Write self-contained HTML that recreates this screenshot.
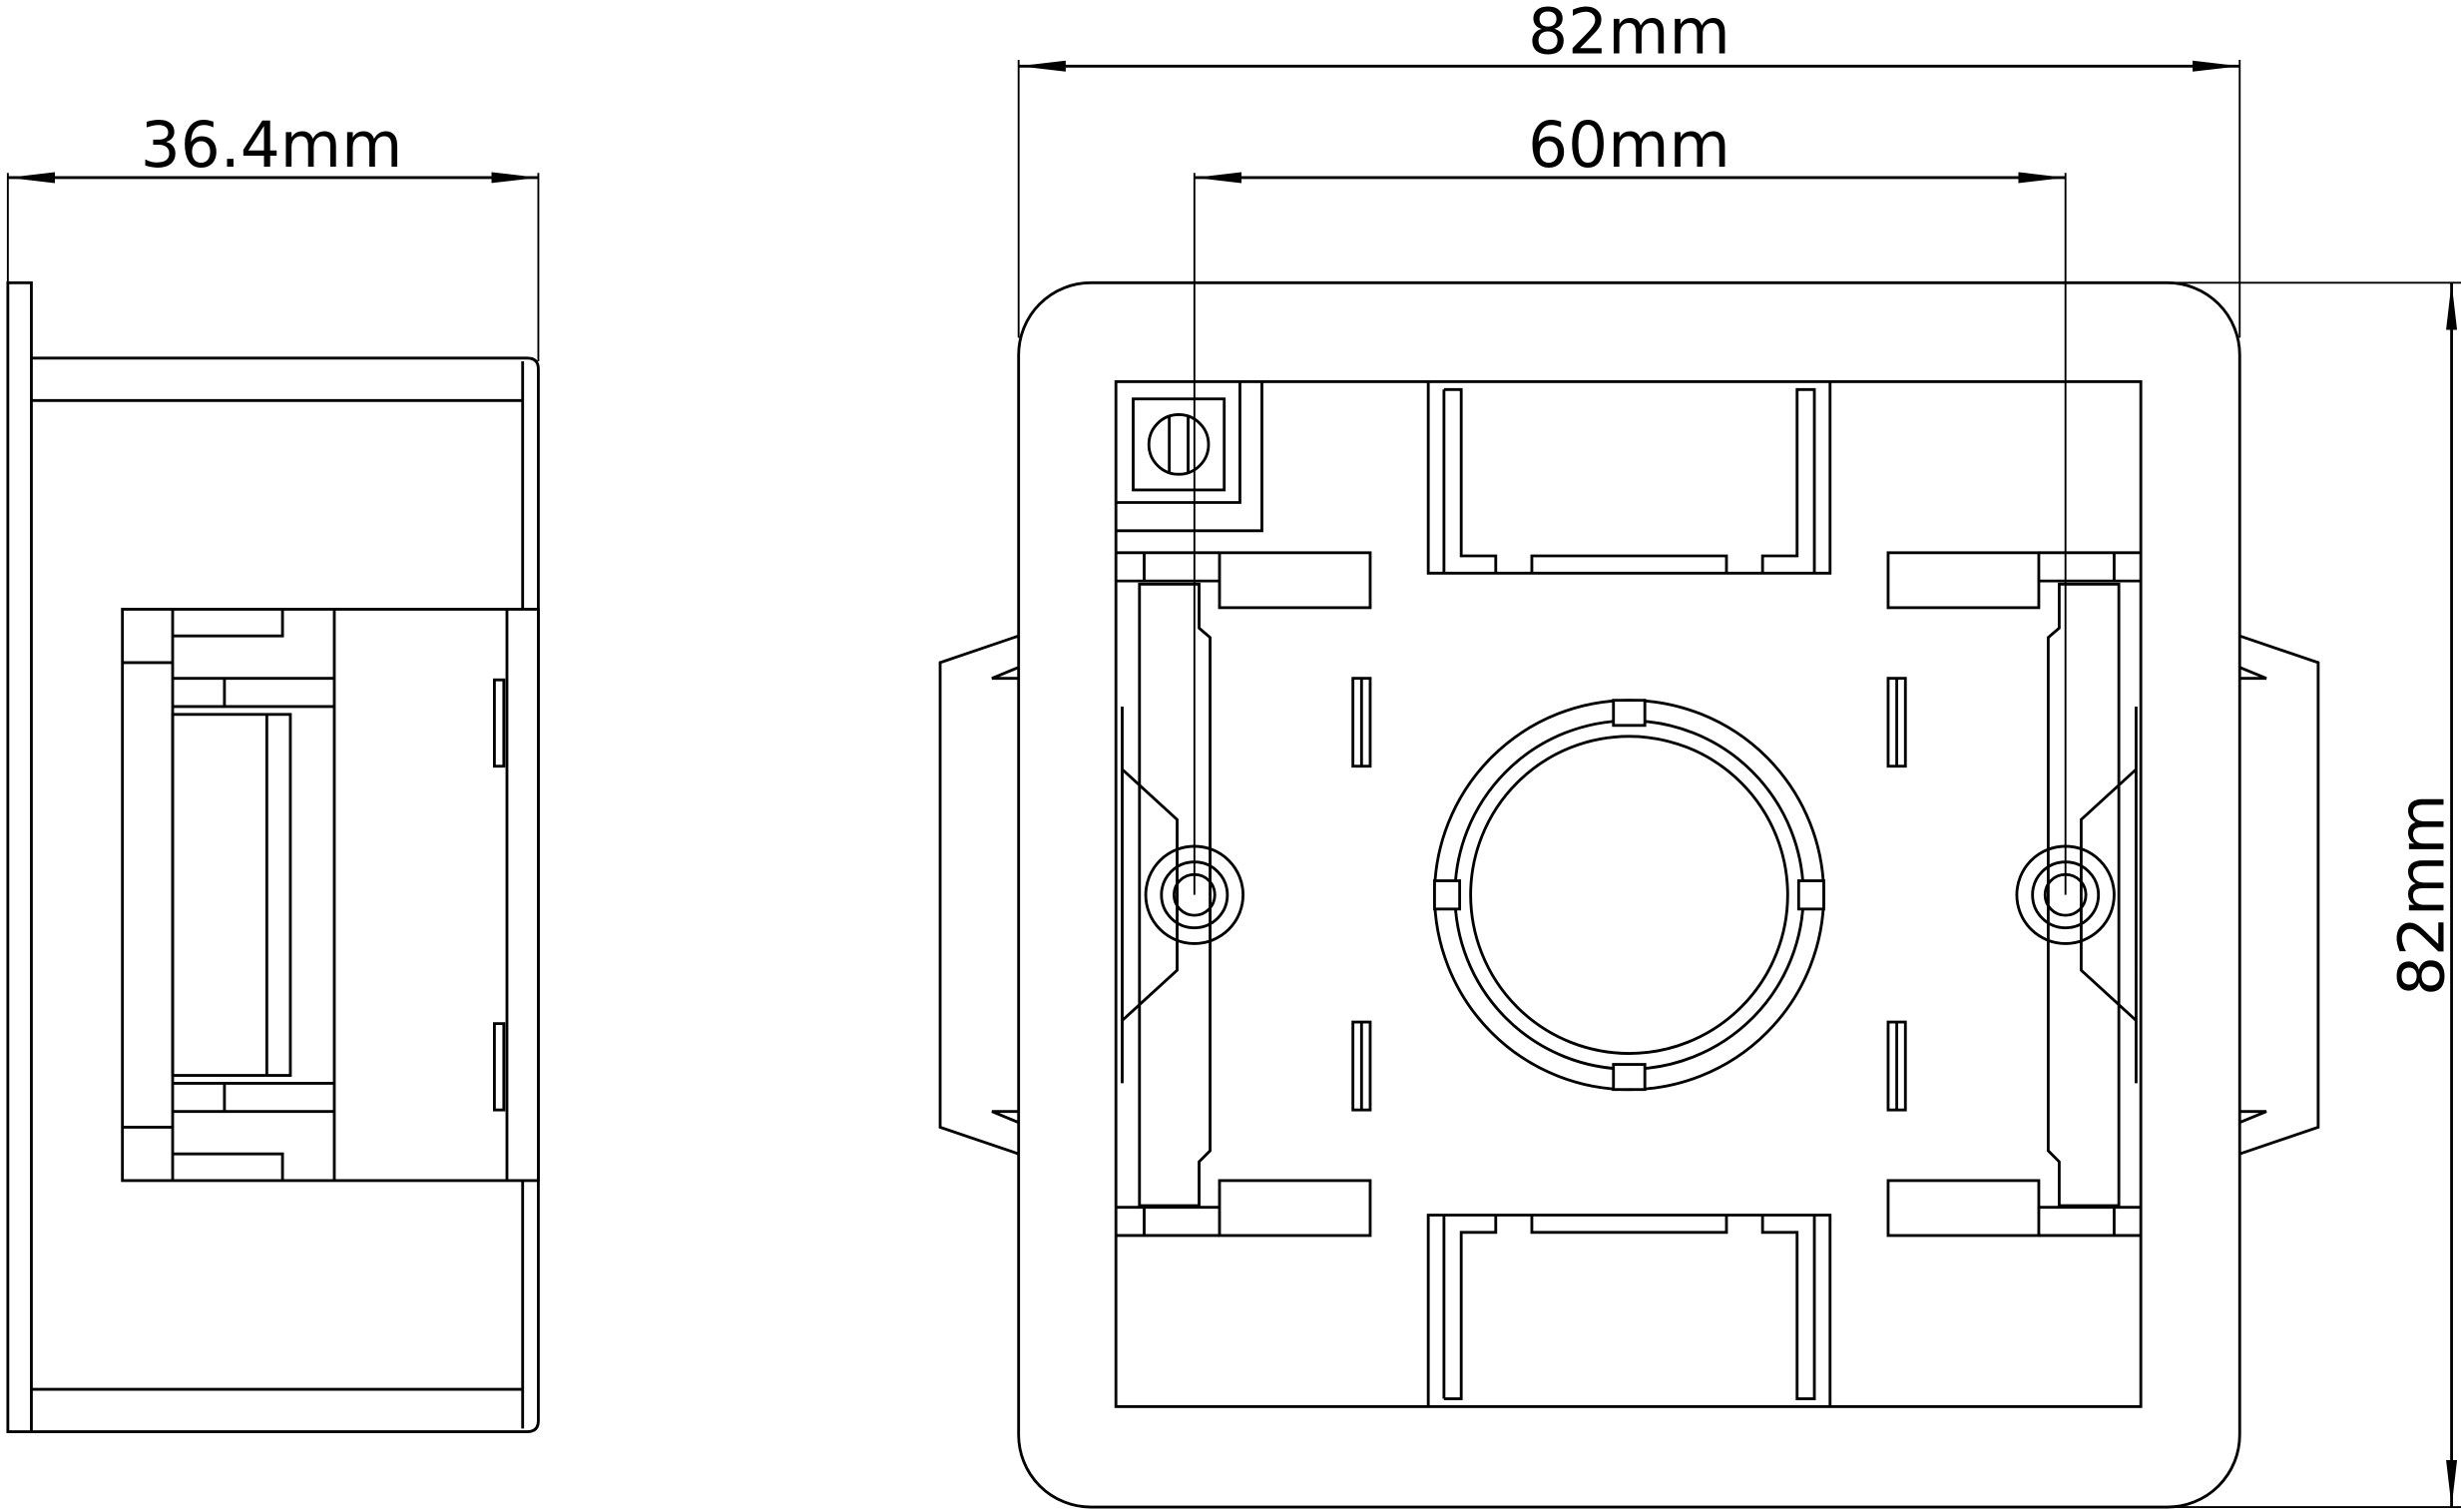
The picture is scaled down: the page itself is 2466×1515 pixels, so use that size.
<!DOCTYPE html>
<html><head><meta charset="utf-8"><style>
html,body{margin:0;padding:0;background:#fff;}
svg{display:block;}
text{font-family:"DejaVu Sans","Liberation Sans",sans-serif;font-size:40px;fill:#000;}
</style></head><body>
<svg width="2466" height="1515" viewBox="0 0 1568 963" xmlns="http://www.w3.org/2000/svg">
<defs>
<marker id="a" viewBox="0 0 30 10" refX="30" refY="5" markerWidth="30" markerHeight="10" markerUnits="userSpaceOnUse" orient="auto-start-reverse"><path d="M0,1.5 L30,5 L0,8.5 z" fill="#000"/></marker>
</defs>
<g fill="none" stroke="#000" stroke-width="1.8">
<line x1="5" y1="113" x2="343" y2="113" marker-start="url(#a)" marker-end="url(#a)"/>
<line x1="5" y1="110" x2="5" y2="180" stroke-width="1.2"/>
<line x1="343" y1="110" x2="343" y2="230" stroke-width="1.2"/>
<rect x="5" y="180" width="15" height="732"/>
<path d="M20,228 H336 Q343,228 343,235 V905 Q343,912 336,912 H20"/>
<line x1="20" y1="255" x2="333" y2="255"/>
<line x1="20" y1="885" x2="333" y2="885"/>
<line x1="333" y1="230" x2="333" y2="388"/>
<line x1="333" y1="752" x2="333" y2="910"/>
<rect x="78" y="388" width="265" height="364"/>
<line x1="110" y1="388" x2="110" y2="752"/>
<line x1="78" y1="422" x2="110" y2="422"/>
<line x1="78" y1="718" x2="110" y2="718"/>
<line x1="213" y1="388" x2="213" y2="752"/>
<line x1="323" y1="388" x2="323" y2="752"/>
<path d="M110,405 H180 V388"/>
<line x1="110" y1="432" x2="213" y2="432"/>
<line x1="143" y1="432" x2="143" y2="450"/>
<line x1="110" y1="450" x2="213" y2="450"/>
<path d="M110,735 H180 V752"/>
<line x1="110" y1="708" x2="213" y2="708"/>
<line x1="143" y1="690" x2="143" y2="708"/>
<line x1="110" y1="690" x2="213" y2="690"/>
<rect x="110" y="455" width="75" height="230"/>
<line x1="170" y1="455" x2="170" y2="685"/>
<rect x="315" y="433" width="6" height="55"/>
<rect x="315" y="652" width="6" height="55"/>

<line x1="649" y1="42" x2="1427" y2="42" marker-start="url(#a)" marker-end="url(#a)"/>
<line x1="649" y1="38" x2="649" y2="215" stroke-width="1.2"/>
<line x1="1427" y1="38" x2="1427" y2="215" stroke-width="1.2"/>
<line x1="761" y1="113" x2="1316" y2="113" marker-start="url(#a)" marker-end="url(#a)"/>
<line x1="761" y1="110" x2="761" y2="570" stroke-width="1.2"/>
<line x1="1316" y1="110" x2="1316" y2="570" stroke-width="1.2"/>
<line x1="1562" y1="180" x2="1562" y2="960" marker-start="url(#a)" marker-end="url(#a)"/>
<line x1="1380" y1="180" x2="1568" y2="180" stroke-width="1.2"/>
<line x1="1380" y1="960" x2="1568" y2="960" stroke-width="1.2"/>

<path d="M649,405 L599,422 V718 L649,735"/>
<path d="M649,425 L632,432 H649"/>
<path d="M649,715 L632,708 H649"/>
<path d="M1427,405 L1477,422 V718 L1427,735"/>
<path d="M1427,425 L1444,432 H1427"/>
<path d="M1427,715 L1444,708 H1427"/>

<rect x="649" y="180" width="778" height="780" rx="46"/>
<rect x="711" y="243" width="653" height="653"/>

<path d="M711,338 H804 V243"/>
<path d="M711,320 H790 V243"/>
<rect x="722" y="254" width="58" height="58"/>
<circle cx="751" cy="283" r="19"/>
<line x1="745" y1="265" x2="745" y2="301"/>
<line x1="757" y1="265" x2="757" y2="301"/>

<path d="M910,243 V365 H1166 V243"/>
<path d="M920,248 H931 V354 H953 V365 M976,365 V354 H1100 V365 M1123,365 V354 H1145 V248 H1156 V365"/>
<line x1="920" y1="248" x2="920" y2="365"/>
<path d="M910,896 V774 H1166 V896"/>
<path d="M920,891 H931 V785 H953 V774 M976,774 V785 H1100 V774 M1123,774 V785 H1145 V891 H1156 V774"/>
<line x1="920" y1="891" x2="920" y2="774"/>

<rect x="777" y="352" width="96" height="35"/>
<rect x="1203" y="352" width="96" height="35"/>
<rect x="777" y="752" width="96" height="35"/>
<rect x="1203" y="752" width="96" height="35"/>
<path d="M711,352 H777 M711,370 H777 M729,352 V370"/>
<path d="M1299,352 H1364 M1299,370 H1364 M1347,352 V370"/>
<path d="M711,787 H777 M711,769 H777 M729,787 V769"/>
<path d="M1299,787 H1364 M1299,769 H1364 M1347,787 V769"/>

<path d="M726,372 H764 V400 L771,406 V733 L764,740 V768 H726 Z"/>
<path d="M715,450 V690 M715,490 L750,522 V618 L715,650"/>
<path d="M1350,372 H1312 V400 L1305,406 V733 L1312,740 V768 H1350 Z"/>
<path d="M1361,450 V690 M1361,490 L1326,522 V618 L1361,650"/>

<circle cx="761" cy="570" r="31"/><circle cx="761" cy="570" r="21"/><circle cx="761" cy="570" r="13"/>
<circle cx="1316" cy="570" r="31"/><circle cx="1316" cy="570" r="21"/><circle cx="1316" cy="570" r="13"/>

<rect x="862" y="432" width="11" height="56"/><line x1="867.5" y1="432" x2="867.5" y2="488"/>
<rect x="1203" y="432" width="11" height="56"/><line x1="1208.5" y1="432" x2="1208.5" y2="488"/>
<rect x="862" y="651" width="11" height="56"/><line x1="867.5" y1="651" x2="867.5" y2="707"/>
<rect x="1203" y="651" width="11" height="56"/><line x1="1208.5" y1="651" x2="1208.5" y2="707"/>

<circle cx="1038" cy="570" r="124"/>
<circle cx="1038" cy="570" r="111"/>
<circle cx="1038" cy="570" r="101"/>
<rect x="1028" y="446" width="20" height="16" fill="#fff"/>
<rect x="1028" y="678" width="20" height="16" fill="#fff"/>
<rect x="914" y="561" width="16" height="18" fill="#fff"/>
<rect x="1146" y="561" width="16" height="18" fill="#fff"/>
</g>
<text x="173" y="106" text-anchor="middle">36.4mm</text>
<text x="1038" y="34" text-anchor="middle">82mm</text>
<text x="1038" y="106" text-anchor="middle">60mm</text>
<text x="0" y="0" text-anchor="middle" transform="translate(1557,570) rotate(-90)">82mm</text>
</svg>
</body></html>
